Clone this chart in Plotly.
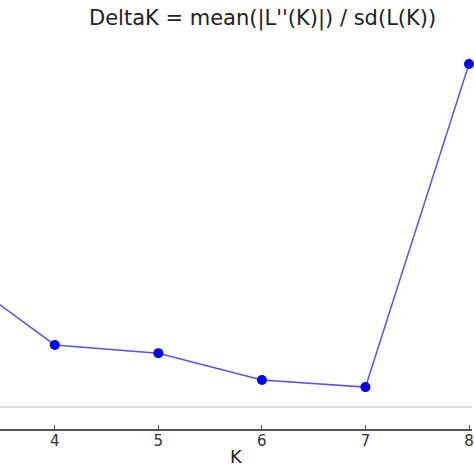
import plotly.graph_objects as go

K = [3, 4, 5, 6, 7, 8]
delta_k = [40.2, 18.1, 15.7, 7.9, 5.8, 100.0]
tick_vals = [3, 4, 5, 6, 7, 8]
tick_text = ["3", "4", "5", "6", "7", "8"]

fig = go.Figure()
fig.add_trace(go.Scatter(
    x=K, y=delta_k, mode="lines+markers",
    line=dict(color="rgba(40,40,255,0.8)", width=1.5),
    marker=dict(color="#0000ff", size=10),
    cliponaxis=False,
))
fig.add_hline(y=0, line=dict(color="#d0d0d0", width=1.5))

fig.update_layout(
    width=474, height=474,
    margin=dict(l=0, r=0, t=40, b=45),
    paper_bgcolor="white", plot_bgcolor="white",
    showlegend=False,
    font=dict(family="DejaVu Sans", color="#333333"),
)
fig.add_annotation(
    text="DeltaK = mean(|L''(K)|) / sd(L(K))",
    x=264 / 474, xref="paper", y=1 + (40 - 18) / 389, yref="paper",
    xanchor="center", yanchor="middle",
    showarrow=False, font=dict(size=21, color="#222222"),
)
fig.update_xaxes(
    range=[3.471, 8.029], tickvals=tick_vals, ticktext=tick_text,
    showgrid=False, zeroline=False,
    showline=True, linecolor="#555555", linewidth=1.5,
    ticks="inside", ticklen=4, tickcolor="#555555",
    tickfont=dict(size=15, color="#333333"),
    ticklabeloverflow="allow", ticklabelstandoff=-3,
    title=dict(text="K", font=dict(size=18, color="#222222"), standoff=2),
)
fig.update_yaxes(
    range=[-6.41, 107.0], showgrid=False, zeroline=False,
    showticklabels=False, showline=False,
)
fig.write_html("out.html", config={"displayModeBar": False},
               post_script="document.body.style.margin='0';document.body.style.overflow='hidden';")
